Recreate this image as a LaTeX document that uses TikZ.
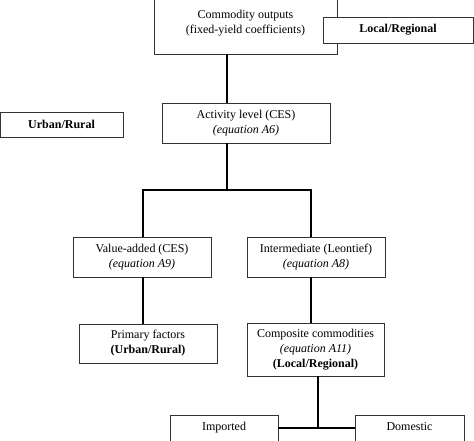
\documentclass[tikz,border=0pt]{standalone}
\usepackage{fontspec}
\setmainfont{Liberation Serif}
\usetikzlibrary{positioning}
\tikzset{
  x=0.75pt, y=-0.75pt, % one unit is one pixel of the reference, y runs down
  every node/.style={font=\fontsize{9}{11.25}\selectfont, align=center},
  box/.style={draw=black!80, line width=0.6pt, fill=white, inner sep=0pt}, % plain boxes
  tag/.style={box, font=\fontsize{9}{11.25}\selectfont\bfseries}, % the bold region labels
  link/.style={line width=1.1pt, black}, % tree connectors
}

\begin{document}
\begin{tikzpicture}
    \useasboundingbox (0,0) rectangle (474,441);

    % boxes
    \node[box, minimum width=137.25pt, minimum height=46.5pt] (out) at (245.5,23)
        {Commodity outputs\\(fixed-yield coefficients)};
    \node[tag, minimum width=112.5pt, minimum height=19.5pt] (loc) at (398,30) {Local/Regional};
    \node[tag, minimum width=92.25pt, minimum height=18.75pt] (urb) at (61.5,124.5) {Urban/Rural};
    \node[box, minimum width=126pt, minimum height=30pt] (act) at (246,123)
        {Activity level (CES)\\\textit{(equation A6)}};
    \node[box, minimum width=103.5pt, minimum height=30pt] (va) at (142,257)
        {Value-added (CES)\\\textit{(equation A9)}};
    \node[box, minimum width=103.5pt, minimum height=30pt] (im) at (316,257)
        {Intermediate (Leontief)\\\textit{(equation A8)}};
    \node[box, minimum width=103.5pt, minimum height=29.25pt] (pf) at (148,343.5)
        {Primary factors\\\textbf{(Urban/Rural)}};
    \node[box, minimum width=102.75pt, minimum height=39.75pt] (comp) at (315.5,349.5)
        {Composite commodities\\\textit{(equation A11)}\\\textbf{(Local/Regional)}};
    \node[box, anchor=north, minimum width=81pt, inner ysep=4pt, text height=7pt, text depth=14pt] (imp) at (224,415) {Imported};
    \node[box, anchor=north, minimum width=81.75pt, inner ysep=4pt, text height=7pt, text depth=14pt] (dom) at (409.5,415) {Domestic};

    % connectors
    \coordinate (trunk) at (227,190);
    \coordinate (fork) at (318,428);
    \draw[link] (out.south -| trunk) -- (act.north -| trunk);
    \draw[link] (act.south -| trunk) -- (trunk);
    \draw[link] (va.north -| 143,0) |- (trunk) -| (im.north -| 311,0);
    \draw[link] (va.south -| 143,0) -- (pf.north -| 143,0);
    \draw[link] (im.south -| 311,0) -- (comp.north -| 311,0);
    \draw[link] (comp.south -| fork) -- (fork);
    \draw[link] (imp.east |- fork) -- (dom.west |- fork);

\end{tikzpicture}
\end{document}
